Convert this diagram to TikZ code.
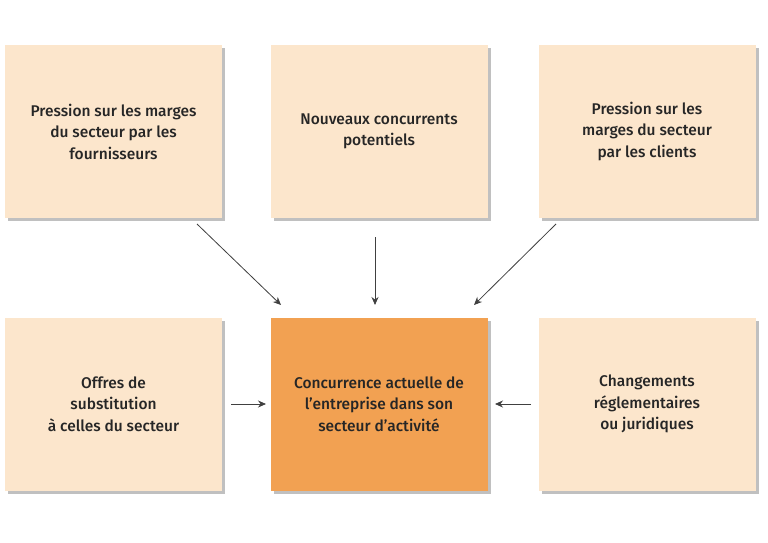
\documentclass[tikz,border=0pt]{standalone}
\usepackage{fontspec}
\setmainfont{Fira Sans}[UprightFont={* Medium}]
\usetikzlibrary{arrows.meta,shadows}
\definecolor{peach}{HTML}{FCE6CC}
\definecolor{orng}{HTML}{F2A152}
\begin{document}
\begin{tikzpicture}[x=1pt,y=-1pt,
  box/.style={fill=peach,minimum width=217pt,minimum height=173pt,align=center,font=\fontsize{15.5}{21.5}\selectfont,inner sep=0pt,text=black!85,
    drop shadow={shadow xshift=3pt,shadow yshift=-3pt,fill=black!35,opacity=0.7}},
  cbox/.style={box,fill=orng},
  arr/.style={-{Stealth[length=8pt,width=7pt]},thick,black!75}]
\fill[white] (0,0) rectangle (768,543);
\useasboundingbox (0,0) rectangle (768,543);
\node[box] (tl) at (113.5,131.5) {Pression sur les marges\\du secteur par les\\fournisseurs};
\node[box] (tm) at (379,131.5) {Nouveaux concurrents\\potentiels};
\node[box] (tr) at (647,131.5) {Pression sur les\\marges du secteur\\par les clients};
\node[box] (bl) at (113.5,404) {Offres de\\substitution\\à celles du secteur};
\node[cbox] (c) at (379,404) {Concurrence actuelle de\\l'entreprise dans son\\secteur d'activité};
\node[box] (br) at (647,404) {Changements\\réglementaires\\ou juridiques};
\coordinate (a1) at (197,224);
\coordinate (a1e) at (281,305);
\coordinate (a2) at (375,237);
\coordinate (a2e) at (375,305);
\coordinate (a3) at (556,224);
\coordinate (a3e) at (474,305);
\coordinate (a4) at (231,404);
\coordinate (a4e) at (266,404);
\coordinate (a5) at (531,404);
\coordinate (a5e) at (495,404);
\draw[arr] (a1) -- (a1e);
\draw[arr] (a2) -- (a2e);
\draw[arr] (a3) -- (a3e);
\draw[arr] (a4) -- (a4e);
\draw[arr] (a5) -- (a5e);
\end{tikzpicture}
\end{document}
